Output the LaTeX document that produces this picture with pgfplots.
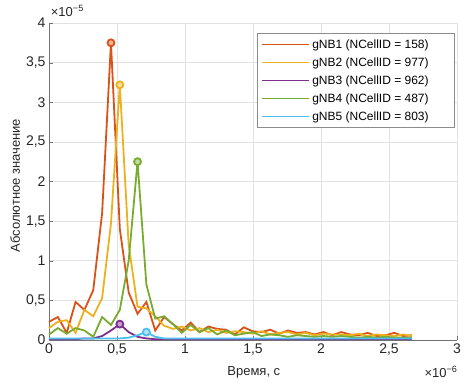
\documentclass[border=0pt]{standalone}
\usepackage{pgfplots}
\pgfplotsset{compat=1.18}
\usepackage{pgfplotstable}
\usepackage{fontspec}
\setmainfont{Liberation Sans}
\definecolor{c1}{HTML}{D95319}
\definecolor{c2}{HTML}{EDB120}
\definecolor{c3}{HTML}{7E2F8E}
\definecolor{c4}{HTML}{77AC30}
\definecolor{c5}{HTML}{4DBEEE}
\definecolor{gridc}{HTML}{E2E2E2}
% x in microseconds, y in units of 1e-5
\pgfplotstableread{
x      a     b     c     d     e
0.0000 0.23  0.15  0.01  0.07  0.02
0.0651 0.29  0.23  0.01  0.15  0.02
0.1302 0.09  0.25  0.01  0.08  0.02
0.1953 0.48  0.09  0.01  0.15  0.02
0.2604 0.38  0.38  0.02  0.12  0.02
0.3255 0.63  0.30  0.02  0.04  0.02
0.3906 1.60  0.53  0.05  0.29  0.02
0.4557 3.75  1.47  0.12  0.19  0.02
0.5208 1.40  3.22  0.20  0.38  0.02
0.5859 0.60  1.20  0.10  1.00  0.03
0.6510 0.33  0.42  0.04  2.25  0.06
0.7161 0.48  0.40  0.02  0.70  0.10
0.7812 0.12  0.30  0.01  0.27  0.04
0.8463 0.29  0.18  0.01  0.30  0.02
0.9114 0.20  0.14  0.01  0.20  0.02
0.9765 0.12  0.17  0.01  0.09  0.02
1.0416 0.22  0.12  0.01  0.19  0.02
1.1067 0.10  0.15  0.01  0.10  0.02
1.1718 0.17  0.10  0.01  0.15  0.02
1.2369 0.14  0.13  0.01  0.07  0.02
1.3020 0.13  0.09  0.01  0.12  0.02
1.3671 0.07  0.11  0.01  0.06  0.02
1.4322 0.16  0.10  0.01  0.08  0.02
1.4973 0.11  0.08  0.01  0.10  0.02
1.5624 0.10  0.11  0.01  0.05  0.02
1.6275 0.13  0.07  0.01  0.07  0.02
1.6926 0.08  0.09  0.01  0.06  0.02
1.7577 0.12  0.10  0.01  0.04  0.02
1.8228 0.09  0.07  0.01  0.06  0.02
1.8879 0.10  0.09  0.01  0.05  0.02
1.9530 0.07  0.06  0.01  0.04  0.02
2.0181 0.10  0.08  0.01  0.05  0.02
2.0832 0.06  0.07  0.01  0.04  0.02
2.1483 0.10  0.07  0.01  0.05  0.02
2.2134 0.07  0.06  0.01  0.04  0.02
2.2785 0.06  0.08  0.01  0.03  0.02
2.3436 0.09  0.05  0.01  0.04  0.02
2.4087 0.05  0.07  0.01  0.03  0.02
2.4738 0.06  0.06  0.01  0.04  0.02
2.5389 0.09  0.05  0.01  0.03  0.02
2.6040 0.05  0.07  0.01  0.03  0.02
2.6691 0.06  0.05  0.01  0.03  0.02
}\datatable
\begin{document}
\begin{tikzpicture}
\begin{axis}[
  at={(49pt,44pt)}, anchor=south west,
  scale only axis, width=408pt, height=317pt,
  xmin=0, xmax=3, ymin=0, ymax=4,
  xtick={0,0.5,...,3}, ytick={0,0.5,...,4},
  axis x line=bottom, axis y line=left,
  axis line style={draw=black!55, -},
  tick style={draw=black!55},
  tick align=inside,
  major tick length=4pt,
  grid=major, grid style={draw=gridc, line width=0.6pt},
  /pgf/number format/use comma,
  /pgf/number format/assume math mode=true,
  tick label style={font=\fontsize{14}{16}\selectfont, text=black!85},
  xlabel={Время, с}, ylabel={Абсолютное значение},
  label style={font=\fontsize{13}{15}\selectfont, text=black!85},
  xlabel style={at={(axis description cs:0.502,-0.101)}, anchor=center},
  ylabel style={at={(axis description cs:-0.083,0.487)}, anchor=center},
  legend style={at={(axis description cs:0.995,0.968)}, anchor=north east,
    draw=black!45, fill=white, line width=0.6pt,
    font=\fontsize{12}{14}\selectfont, row sep=3.8pt, inner sep=4pt},
  legend cell align=left,
  legend image code/.code={\draw[line width=1.8pt] (0pt,0pt) -- (38pt,0pt); \path (0pt,0pt) -- (47pt,0pt);},
  clip=false,
]
\addplot[c1, line width=1.8pt, no marks] table[x=x, y=a] {\datatable};
\addlegendentry{gNB1 (NCellID = 158)\rule{20pt}{0pt}}
\addplot[c2, line width=1.8pt, no marks] table[x=x, y=b] {\datatable};
\addlegendentry{gNB2 (NCellID = 977)\rule{20pt}{0pt}}
\addplot[c3, line width=1.8pt, no marks] table[x=x, y=c] {\datatable};
\addlegendentry{gNB3 (NCellID = 962)\rule{20pt}{0pt}}
\addplot[c4, line width=1.8pt, no marks] table[x=x, y=d] {\datatable};
\addlegendentry{gNB4 (NCellID = 487)\rule{20pt}{0pt}}
\addplot[c5, line width=1.8pt, no marks] table[x=x, y=e] {\datatable};
\addlegendentry{gNB5 (NCellID = 803)\rule{20pt}{0pt}}
\addplot[c1, line width=1.8pt, only marks, mark=*, mark size=3.5pt, mark options={fill=c1!45!white}, forget plot] coordinates {(0.4557,3.75)};
\addplot[c2, line width=1.8pt, only marks, mark=*, mark size=3.5pt, mark options={fill=c2!45!white}, forget plot] coordinates {(0.5208,3.22)};
\addplot[c3, line width=1.8pt, only marks, mark=*, mark size=3.5pt, mark options={fill=c3!45!white}, forget plot] coordinates {(0.5208,0.20)};
\addplot[c4, line width=1.8pt, only marks, mark=*, mark size=3.5pt, mark options={fill=c4!45!white}, forget plot] coordinates {(0.6510,2.25)};
\addplot[c5, line width=1.8pt, only marks, mark=*, mark size=3.5pt, mark options={fill=c5!45!white}, forget plot] coordinates {(0.7161,0.10)};
\node[font=\fontsize{13}{15}\selectfont, text=black!85] at (axis description cs:0.045,1.038) {×10\textsuperscript{−5}};
\node[font=\fontsize{13}{15}\selectfont, text=black!85] at (axis description cs:0.961,-0.101) {×10\textsuperscript{−6}};
\end{axis}
\pgfresetboundingbox
\path (0,0) rectangle (474pt,384pt);
\end{tikzpicture}
\end{document}
